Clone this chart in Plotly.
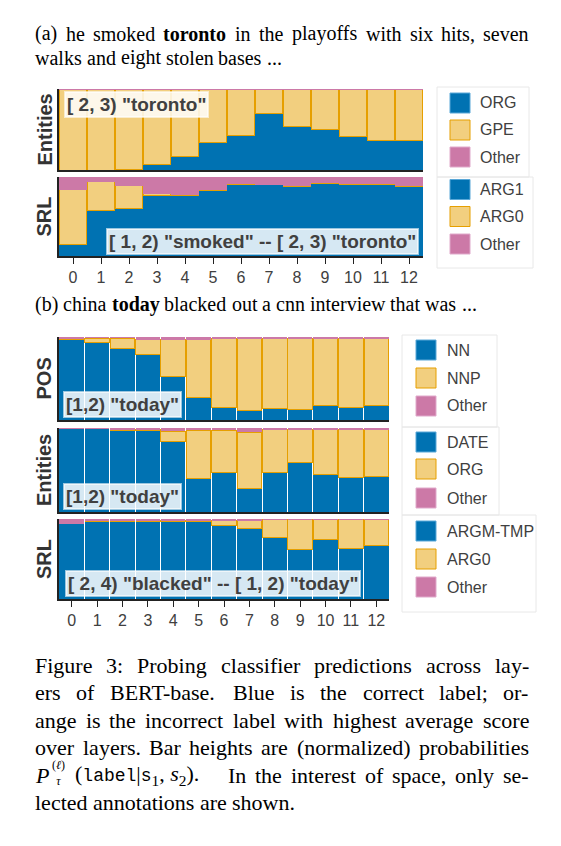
import plotly.graph_objects as go

W, H = 561, 846
# the page body adds an 8px margin, so the figure is drawn 16px smaller and offset
PAGE = 8
FW, FH = W - 2 * PAGE, H - 2 * PAGE

layers = list(range(13))
tick_text = [str(i) for i in layers]

# (a) he smoked toronto ...
a_ent_labels = ["ORG", "GPE", "Other"]
a_ent_org = [0.0, 0.0, 0.005, 0.066, 0.17, 0.34, 0.42, 0.70, 0.54, 0.50, 0.415, 0.37, 0.37]
a_ent_gpe = [0.99, 0.99, 0.985, 0.924, 0.82, 0.65, 0.57, 0.29, 0.45, 0.49, 0.575, 0.62, 0.62]
a_ent_other = [0.01, 0.01, 0.01, 0.01, 0.01, 0.01, 0.01, 0.01, 0.01, 0.01, 0.01, 0.01, 0.01]

a_srl_labels = ["ARG1", "ARG0", "Other"]
a_srl_arg1 = [0.15, 0.57, 0.60, 0.76, 0.77, 0.83, 0.91, 0.90, 0.88, 0.92, 0.91, 0.91, 0.88]
a_srl_arg0 = [0.69, 0.37, 0.29, 0.03, 0.005, 0.0, 0.0, 0.0, 0.0, 0.0, 0.0, 0.0, 0.0]
a_srl_other = [0.16, 0.06, 0.11, 0.21, 0.225, 0.17, 0.09, 0.10, 0.12, 0.08, 0.09, 0.09, 0.12]

# (b) china today blacked out ...
b_pos_labels = ["NN", "NNP", "Other"]
b_pos_nn = [0.972, 0.928, 0.86, 0.788, 0.528, 0.272, 0.148, 0.12, 0.136, 0.124, 0.176, 0.148, 0.18]
b_pos_nnp = [0.008, 0.06, 0.128, 0.176, 0.436, 0.692, 0.828, 0.856, 0.84, 0.852, 0.80, 0.828, 0.796]
b_pos_other = [0.02, 0.012, 0.012, 0.036, 0.036, 0.036, 0.024, 0.024, 0.024, 0.024, 0.024, 0.024, 0.024]

b_ent_labels = ["DATE", "ORG", "Other"]
b_ent_date = [0.992, 0.992, 0.972, 0.976, 0.841, 0.397, 0.476, 0.278, 0.476, 0.595, 0.452, 0.409, 0.417]
b_ent_org = [0.0, 0.0, 0.012, 0.01, 0.123, 0.579, 0.50, 0.674, 0.504, 0.385, 0.528, 0.571, 0.563]
b_ent_other = [0.008, 0.008, 0.016, 0.014, 0.036, 0.024, 0.024, 0.048, 0.02, 0.02, 0.02, 0.02, 0.02]

b_srl_labels = ["ARGM-TMP", "ARG0", "Other"]
b_srl_tmp = [0.942, 0.971, 0.971, 0.971, 0.967, 0.967, 0.913, 0.884, 0.768, 0.622, 0.743, 0.631, 0.664]
b_srl_arg0 = [0.0, 0.0, 0.0, 0.0, 0.01, 0.01, 0.07, 0.099, 0.22, 0.366, 0.245, 0.357, 0.324]
b_srl_other = [0.058, 0.029, 0.029, 0.029, 0.023, 0.023, 0.017, 0.017, 0.012, 0.012, 0.012, 0.012, 0.012]

BLUE = "#0072B2"
ORANGE = "#F2CF7F"
ORANGE_EDGE = "#E69F00"
PINK = "#CC79A7"
colors = [BLUE, ORANGE, PINK]
edges = [("#4f9fd0", 0), (ORANGE_EDGE, 1), ("#dba5c6", 0)]
swatch_edges = ["#5aa8d8", ORANGE_EDGE, "#e0aacb"]

SANS = "Liberation Sans"
SERIF = "Liberation Serif"
GREY = "#404040"

# title, x px span, y px span, series, bottom row?, label box (text, cx, cy)
panels = [
    ("Entities", (59, 423), (89, 170), [a_ent_org, a_ent_gpe, a_ent_other], False,
     ('[ 2, 3) "toronto"', 136, 105)),
    ("SRL", (59, 423), (177, 256), [a_srl_arg1, a_srl_arg0, a_srl_other], True,
     ('[ 1, 2) "smoked" -- [ 2, 3) "toronto"', 262, 241)),
    ("POS", (59, 389), (337, 420), [b_pos_nn, b_pos_nnp, b_pos_other], False,
     ('[1,2) "today"', 122, 404)),
    ("Entities", (59, 389), (428, 512), [b_ent_date, b_ent_org, b_ent_other], False,
     ('[1,2) "today"', 122, 496)),
    ("SRL", (59, 389), (519, 599), [b_srl_tmp, b_srl_arg0, b_srl_other], True,
     ('[ 2, 4) "blacked" -- [ 1, 2) "today"', 213, 583)),
]


def px(x):
    return (x - PAGE) / FW


def py(y):
    return 1 - (y - PAGE) / FH


fig = go.Figure()
annotations = []
shapes = []
layout = {}

for i, (title, (x0, x1), (y0, y1), series, bottom, box) in enumerate(panels, start=1):
    xa = "x" if i == 1 else f"x{i}"
    ya = "y" if i == 1 else f"y{i}"
    for vals, c, (lc, lw) in zip(series, colors, edges):
        fig.add_trace(go.Bar(
            x=layers, y=vals, xaxis=xa, yaxis=ya,
            marker=dict(color=c, line=dict(color=lc, width=lw)),
            showlegend=False, hoverinfo="skip",
        ))
    layout["xaxis" if i == 1 else f"xaxis{i}"] = dict(
        domain=[px(x0), px(x1)], anchor=ya, range=[-0.5, 12.5],
        showline=True, linecolor="#222222", linewidth=1.5,
        showgrid=False, zeroline=False,
        tickmode="array", tickvals=layers, ticktext=tick_text,
        showticklabels=bottom, ticks="outside" if bottom else "",
        ticklen=6, tickwidth=1.2, tickcolor="#222222",
        tickfont=dict(family=SANS, size=16, color=GREY),
    )
    layout["yaxis" if i == 1 else f"yaxis{i}"] = dict(
        domain=[py(y1), py(y0)], anchor=xa, range=[0, 1],
        showline=True, linecolor="#222222", linewidth=1.5,
        showgrid=False, zeroline=False, showticklabels=False, ticks="",
    )
    annotations.append(dict(
        text=f"<b>{title}</b>", xref="paper", yref="paper",
        x=px(44), y=py((y0 + y1) / 2), xanchor="center", yanchor="middle",
        textangle=-90, showarrow=False,
        font=dict(family=SANS, size=20, color="#333333"),
    ))
    text, cx, cy = box
    annotations.append(dict(
        text=f"<b>{text}</b>", xref="paper", yref="paper",
        x=px(cx), y=py(cy), xanchor="center", yanchor="middle", showarrow=False,
        font=dict(family=SANS, size=19, color=GREY),
        bgcolor="rgba(255,255,255,0.84)", bordercolor="rgba(255,255,255,0.6)",
        borderwidth=2, borderpad=1,
    ))

# legends drawn as framed swatch lists
legend_blocks = [
    ((437, 87, 529, 177), a_ent_labels, [103, 130, 157], 450, 478),
    ((437, 177, 533, 268), a_srl_labels, [189.5, 216.5, 244], 450, 478),
    ((402, 335, 497, 427), b_pos_labels, [350, 378, 406], 416, 445),
    ((402, 427, 499, 515), b_ent_labels, [442, 469, 498], 416, 445),
    ((402, 515, 536, 612), b_srl_labels, [531, 559, 587], 416, 445),
]
for (bx0, by0, bx1, by1), labels, centers, sx, tx in legend_blocks:
    shapes.append(dict(type="rect", xref="paper", yref="paper",
                       x0=px(bx0), x1=px(bx1), y0=py(by1), y1=py(by0),
                       line=dict(color="#e8e8e8", width=1), fillcolor="rgba(0,0,0,0)"))
    for lab, cy, c, ec in zip(labels, centers, colors, swatch_edges):
        shapes.append(dict(type="rect", xref="paper", yref="paper",
                           x0=px(sx), x1=px(sx + 20), y0=py(cy + 10), y1=py(cy - 10),
                           line=dict(color=ec, width=1), fillcolor=c))
        annotations.append(dict(text=lab, xref="paper", yref="paper",
                                x=px(tx), y=py(cy), xanchor="left", yanchor="middle",
                                showarrow=False, font=dict(family=SANS, size=16, color=GREY)))

# justified serif text (Times metrics)
TIMES_W = {}
for group, v in [(" .,", 250), (":;ijlt|", 278), ("fr-()I", 333), ("sJ", 389), ("acez", 444),
                 ("bdghknopquvxy0123456789", 500), ("FPS", 556), ("ELTZ", 611), ("BCR", 667),
                 ("wADGHKNOQUVXY", 722), ("m", 778), ("M", 889), ("W", 944)]:
    for ch in group:
        TIMES_W[ch] = v
TIMES_BOLD = dict(TIMES_W, a=500, d=556, n=556, o=500, r=444, t=333, y=500)


def word_width(word, size):
    table = TIMES_BOLD if word.startswith("<b>") else TIMES_W
    plain = word.replace("<b>", "").replace("</b>", "")
    return sum(table.get(ch, 500) for ch in plain) * size / 1000


def put_text(text, x, y, size, family=SERIF):
    annotations.append(dict(text=text, xref="paper", yref="paper", x=px(x), y=py(y),
                            xanchor="left", yanchor="middle", showarrow=False,
                            borderpad=0, borderwidth=0,
                            font=dict(family=family, size=size, color="black")))


def set_line(text, y, x0, x1, size, justify=True):
    words = text.split()
    widths = [word_width(w, size) for w in words]
    gap = (x1 - x0 - sum(widths)) / (len(words) - 1) if justify else 0.25 * size
    x = x0
    for w, ww in zip(words, widths):
        put_text(w, x, y, size)
        x += ww + gap


LEFT, RIGHT = 35, 529
set_line("(a) he smoked <b>toronto</b> in the playoffs with six hits, seven", 34, LEFT, RIGHT, 20)
set_line("walks and eight stolen bases ...", 58, LEFT, RIGHT, 20, justify=False)
set_line("(b) china <b>today</b> blacked out a cnn interview that was ...", 304, LEFT, RIGHT, 20,
         justify=False)

set_line("Figure 3: Probing classifier predictions across lay-", 665, LEFT, RIGHT, 22)
set_line("ers of BERT-base. Blue is the correct label; or-", 692.5, LEFT, RIGHT, 22)
set_line("ange is the incorrect label with highest average score", 720, LEFT, RIGHT, 22)
set_line("over layers. Bar heights are (normalized) probabilities", 747.5, LEFT, RIGHT, 22)
set_line("In the interest of space, only se-", 775, 228, RIGHT, 22)
set_line("lected annotations are shown.", 802.5, LEFT, RIGHT, 22, justify=False)

mono = "font-family:Liberation Mono;font-size:18px"
put_text("<i>P</i>", 35, 775, 22)
put_text("(<i>ℓ</i>)<br><i>τ</i>", 52, 772.5, 12)
put_text(f"(<span style='{mono}'>label</span>|<span style='{mono}'>s</span><sub>1</sub>, "
         "<i>s</i><sub>2</sub>).", 75, 775, 22)

fig.update_layout(
    width=FW, height=FH,
    margin=dict(l=0, r=0, t=0, b=0),
    paper_bgcolor="white", plot_bgcolor="white",
    barmode="stack", bargap=0.035,
    annotations=annotations, shapes=shapes,
    **layout,
)

fig.write_html("out.html")
